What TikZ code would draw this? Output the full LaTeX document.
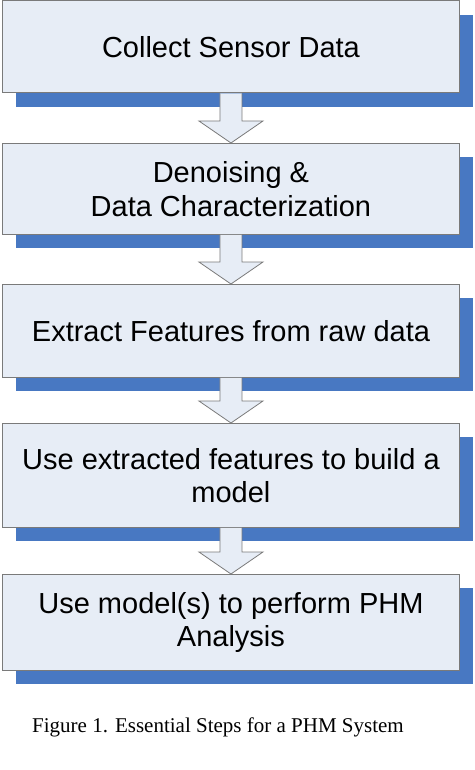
\documentclass[tikz,border=0pt]{standalone}
\usepackage{fontspec}
\setmainfont{Liberation Serif}
\newfontfamily\boxfont{Liberation Sans}
\usetikzlibrary{shadows}

\definecolor{boxfill}{HTML}{E7EDF6}
\definecolor{boxline}{HTML}{7A7A7A}
\definecolor{shadowblue}{HTML}{4878C2}

\tikzset{
	stepbox/.style={draw=boxline, line width=0.9pt, fill=boxfill, anchor=north west,
		minimum width=457pt, align=center, inner sep=0pt,
		font=\boxfont\fontsize{29}{33.5}\selectfont,
		drop shadow={shadow xshift=14pt, shadow yshift=-14pt, fill=shadowblue, opacity=1}},
	downarrow/.style={draw=boxline, line width=0.8pt, fill=boxfill, line join=miter}
}

\newcommand{\steparrow}[2]{%
	\fill[boxfill] ([xshift=-11pt]#1.south) -- ([xshift=-11pt,yshift=22pt]#2.north) -- ([xshift=-32pt,yshift=22pt]#2.north) -- (#2.north) -- ([xshift=32pt,yshift=22pt]#2.north) -- ([xshift=11pt,yshift=22pt]#2.north) -- ([xshift=11pt]#1.south) -- cycle;
	\draw[downarrow, fill=none] ([xshift=-11pt]#1.south) -- ([xshift=-11pt,yshift=22pt]#2.north) -- ([xshift=-32pt,yshift=22pt]#2.north) -- (#2.north) -- ([xshift=32pt,yshift=22pt]#2.north) -- ([xshift=11pt,yshift=22pt]#2.north) -- ([xshift=11pt]#1.south);
}

\begin{document}
\begin{tikzpicture}[x=1pt, y=-1pt]
	\useasboundingbox (0,0) rectangle (474,770);
	% steps
	\node[stepbox, minimum height=92pt] (s1) at (2,0.5) {Collect Sensor Data};
	\node[stepbox, minimum height=91pt] (s2) at (2,143) {Denoising \&\\Data Characterization};
	\node[stepbox, minimum height=93pt] (s3) at (2,284) {Extract Features from raw data};
	\node[stepbox, minimum height=104pt] (s4) at (2,423) {Use extracted features to build a\\model};
	\node[stepbox, minimum height=96pt] (s5) at (2,574) {Use model(s) to perform PHM\\Analysis};
	% arrows
	\steparrow{s1}{s2}
	\steparrow{s2}{s3}
	\steparrow{s3}{s4}
	\steparrow{s4}{s5}
	% caption
	\node[anchor=base, font=\fontsize{21}{24}\selectfont] (cap) at (218,732) {Figure 1. Essential Steps for a PHM System};
\end{tikzpicture}
\end{document}
